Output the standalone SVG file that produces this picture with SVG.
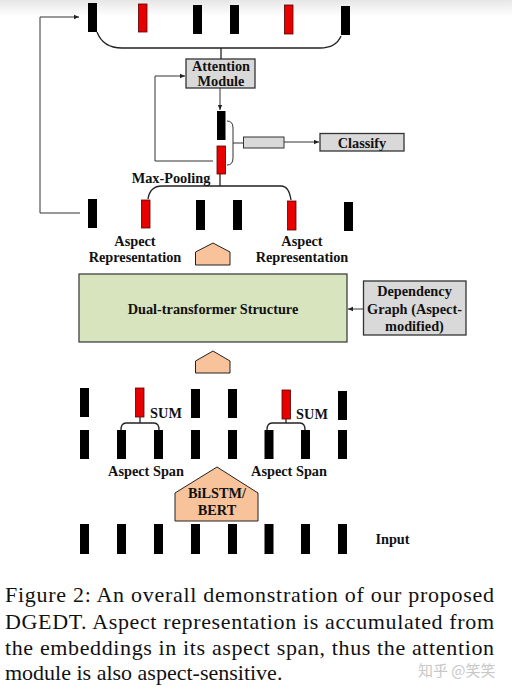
<svg xmlns="http://www.w3.org/2000/svg" width="512" height="693" viewBox="0 0 512 693">
<defs>
<style>
.bk{fill:#000}
.rd{fill:#e80000;stroke:#500;stroke-width:0.8}
.ln{fill:none;stroke:#222;stroke-width:1.3}
.ln2{fill:none;stroke:#333;stroke-width:1}
.lb{font-family:"Liberation Serif","Times New Roman",serif;font-weight:bold;font-size:14.3px;fill:#111;text-anchor:middle}
.gbox{fill:#d9d9d9;stroke:#333;stroke-width:1.3}
.pent{fill:#f8c39b;stroke:#222;stroke-width:1}
.cap{font-family:"Liberation Serif","Times New Roman",serif;font-size:22px;fill:#111}
</style>
<marker id="ah" markerWidth="6" markerHeight="6" refX="5" refY="3" orient="auto" markerUnits="userSpaceOnUse">
<path d="M0,0.8 L5,3 L0,5.2 z" fill="#222"/>
</marker>
<linearGradient id="topg" x1="0" y1="0" x2="0" y2="1">
<stop offset="0" stop-color="#e6e6e6"/>
<stop offset="1" stop-color="#ffffff"/>
</linearGradient>
</defs>
<rect x="0" y="0" width="512" height="693" fill="#fff"/>
<rect x="0" y="0" width="512" height="16" fill="url(#topg)"/>

<g id="connectors">
<path class="ln" d="M97,32 Q103,48 122,48 L320,48 Q336,48 341,36"/>
<line class="ln" x1="221" y1="48" x2="221" y2="59"/>
<line class="ln2" x1="220" y1="88" x2="220" y2="110" marker-end="url(#ah)"/>
<path class="ln2" d="M227,121 Q233,121 233,128 L233,158 Q233,165 227,165"/>
<line class="ln2" x1="233" y1="143" x2="243" y2="143"/>
<line class="ln2" x1="284" y1="142" x2="319" y2="142" marker-end="url(#ah)"/>
<path class="ln2" d="M213,161 L155,161 L155,76 L185,76" marker-end="url(#ah)"/>
<line class="ln" x1="220" y1="174" x2="220" y2="186"/>
<path class="ln" d="M148,199 Q150,186 162,186 L281,186 Q289,186 291,200"/>
<path class="ln2" d="M80,213 L40,213 L40,17 L79,17" marker-end="url(#ah)"/>
<line class="ln2" x1="363" y1="309" x2="348" y2="309" marker-end="url(#ah)"/>
<line class="ln" x1="140" y1="417" x2="140" y2="423"/>
<path class="ln" d="M121,430 Q121,423 126,423 L154,423 Q159,423 159,430"/>
<line class="ln" x1="286" y1="419" x2="286" y2="423"/>
<path class="ln" d="M267,430 Q267,423 272,423 L300,423 Q305,423 305,430"/>
</g>

<g id="top-row">
<rect class="bk" x="88" y="3" width="9" height="29"/>
<rect class="rd" x="138.5" y="4" width="8.5" height="28"/>
<rect class="bk" x="193" y="5" width="9" height="29"/>
<rect class="bk" x="230" y="5" width="9" height="29"/>
<rect class="rd" x="284.5" y="5" width="8.5" height="29"/>
<rect class="bk" x="341" y="6" width="9" height="29"/>
</g>

<g id="attention">
<rect class="gbox" x="186" y="59" width="69" height="29"/>
<text class="lb" x="221" y="70.5" font-size="13.8">Attention</text>
<text class="lb" x="221" y="85.5" font-size="13.8">Module</text>
</g>

<g id="pooled">
<rect class="bk" x="217" y="111" width="8.5" height="29"/>
<rect class="rd" x="217" y="146" width="8.5" height="28"/>
</g>

<g id="concat">
<rect x="243.5" y="137" width="40.5" height="11" fill="#d9d9d9" stroke="#333" stroke-width="1"/>
</g>

<g id="classify">
<rect class="gbox" x="320" y="133.5" width="84" height="17.5"/>
<text class="lb" x="362" y="147.5" font-size="14.5">Classify</text>
</g>

<g id="maxpool-label">
<text class="lb" x="171" y="183">Max-Pooling</text>
</g>

<g id="mid-row">
<rect class="bk" x="88" y="199" width="9" height="29"/>
<rect class="rd" x="141.5" y="200" width="8.5" height="28"/>
<rect class="bk" x="196" y="200" width="9" height="30"/>
<rect class="bk" x="233" y="200" width="9" height="30"/>
<rect class="rd" x="287.5" y="201" width="8.5" height="29"/>
<rect class="bk" x="344" y="202" width="9" height="29"/>
</g>

<g id="aspect-rep-labels">
<text class="lb" x="135" y="245.5">Aspect</text>
<text class="lb" x="135" y="262">Representation</text>
<text class="lb" x="302" y="245.5">Aspect</text>
<text class="lb" x="302" y="262">Representation</text>
</g>

<g id="up-arrow-1">
<polygon class="pent" points="195.5,252 213,243 230,252 230,265 195.5,265"/>
</g>

<g id="dual-transformer">
<rect x="79" y="274" width="268" height="68" fill="#d8e4bd" stroke="#333" stroke-width="1.2"/>
<text class="lb" x="213" y="313.5">Dual-transformer Structure</text>
</g>

<g id="dependency-graph">
<rect class="gbox" x="363.5" y="281" width="102.5" height="54"/>
<text class="lb" x="414.5" y="296">Dependency</text>
<text class="lb" x="414.5" y="313.5">Graph (Aspect-</text>
<text class="lb" x="414.5" y="331">modified)</text>
</g>

<g id="up-arrow-2">
<polygon class="pent" points="195.5,361 213,351 230,361 230,373 195.5,373"/>
</g>

<g id="sum-row">
<rect class="bk" x="80" y="388" width="9" height="29"/>
<rect class="rd" x="135.5" y="388" width="8.5" height="29"/>
<rect class="bk" x="191" y="389" width="9" height="29"/>
<rect class="bk" x="228" y="389" width="9" height="29"/>
<rect class="rd" x="282" y="390" width="8.5" height="29"/>
<rect class="bk" x="338" y="391" width="9" height="29"/>
<text class="lb" x="166" y="417.5">SUM</text>
<text class="lb" x="312" y="418.5">SUM</text>
</g>

<g id="encoded-row">
<rect class="bk" x="80" y="430" width="9" height="29"/>
<rect class="bk" x="117" y="430" width="9" height="29"/>
<rect class="bk" x="154" y="430" width="9" height="29"/>
<rect class="bk" x="191" y="430" width="9" height="29"/>
<rect class="bk" x="228" y="430" width="9" height="29"/>
<rect class="bk" x="264.5" y="430" width="9" height="29"/>
<rect class="bk" x="301" y="430" width="9" height="29"/>
<rect class="bk" x="338" y="430" width="9" height="29"/>
</g>

<g id="aspect-span-labels">
<text class="lb" x="146" y="476">Aspect Span</text>
<text class="lb" x="289" y="476">Aspect Span</text>
</g>

<g id="bilstm">
<polygon class="pent" points="175,493 217,467 258,493 258,521 175,521"/>
<text class="lb" x="217" y="498">BiLSTM/</text>
<text class="lb" x="217" y="514.5">BERT</text>
</g>

<g id="input-row">
<rect class="bk" x="80" y="524" width="9" height="30"/>
<rect class="bk" x="117" y="524" width="9" height="30"/>
<rect class="bk" x="154" y="524" width="9" height="30"/>
<rect class="bk" x="191" y="524" width="9" height="30"/>
<rect class="bk" x="228" y="524" width="9" height="30"/>
<rect class="bk" x="264.5" y="524" width="9" height="30"/>
<rect class="bk" x="301" y="524" width="9" height="30"/>
<rect class="bk" x="338" y="524" width="9" height="30"/>
<text class="lb" x="392.5" y="544">Input</text>
</g>

<g id="caption">
<text class="cap" x="5" y="602" textLength="489" lengthAdjust="spacing">Figure 2:  An overall demonstration of our proposed</text>
<text class="cap" x="5" y="629" textLength="489" lengthAdjust="spacing">DGEDT. Aspect representation is accumulated from</text>
<text class="cap" x="5" y="655" textLength="489" lengthAdjust="spacing">the embeddings in its aspect span, thus the attention</text>
<text class="cap" x="5" y="680">module is also aspect-sensitive.</text>
<text x="418" y="676" font-family="'Noto Sans CJK SC',sans-serif" font-size="15" fill="#c8c8c8">知乎 @笑笑</text>
</g>
</svg>
